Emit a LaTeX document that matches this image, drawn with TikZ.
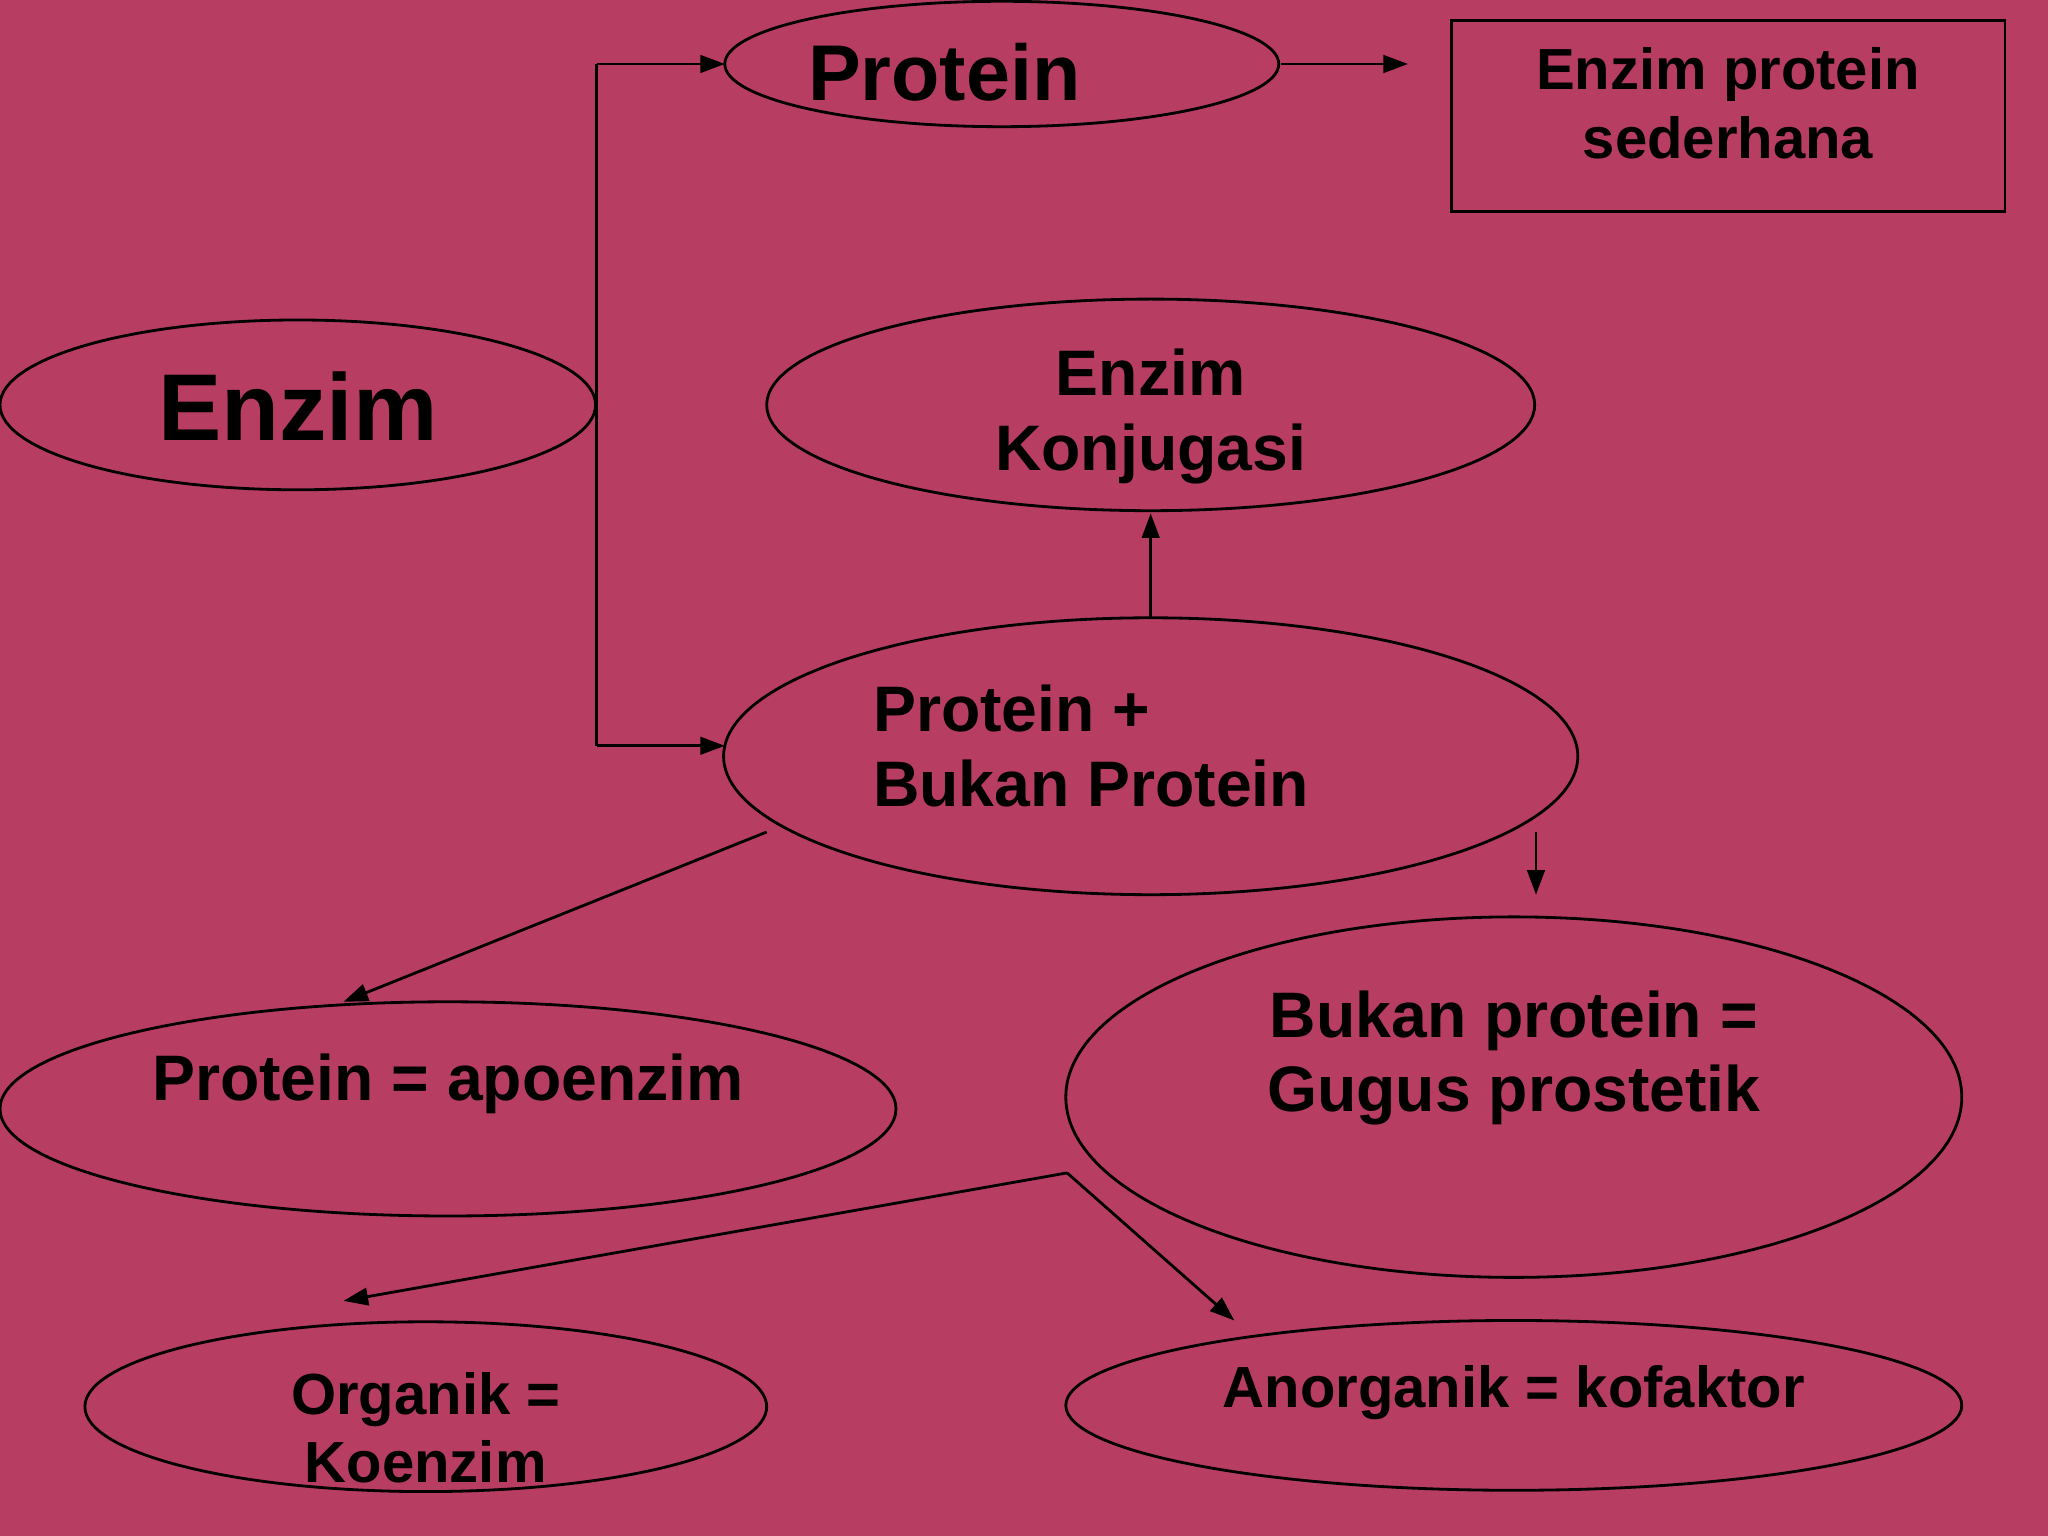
\documentclass[tikz,border=0pt]{standalone}
\usepackage{fontspec}
\setmainfont{Liberation Sans}
\usetikzlibrary{shapes.geometric,arrows.meta}
\definecolor{bg}{HTML}{B83D63}
\begin{document}
\begin{tikzpicture}[x=0.013061cm,y=-0.013061cm,
  ell/.style={draw=black,ellipse,line width=0.8pt,inner sep=0pt},
  lbl/.style={font=\bfseries,align=center,inner sep=0pt},
  con/.style={line width=0.8pt,-{Triangle[length=7pt,width=5pt]}}]
\fill[bg] (0,0) rectangle (1568,1176);
\useasboundingbox (0,0) rectangle (1568,1176);
\node[ell,minimum width=5.54cm,minimum height=1.254cm] (prot) at (767,49) {};
\node[lbl,font=\bfseries\fontsize{22.5}{26}\selectfont] at (723,55) {Protein};
\node[draw,line width=0.8pt,minimum width=5.538cm,minimum height=1.907cm] (simple) at (1323,89) {};
\node[lbl,font=\bfseries\fontsize{16.5}{19.5}\selectfont] at (1323,79) {Enzim protein\\sederhana};
\node[ell,minimum width=5.956cm,minimum height=1.698cm] (enzim) at (228,310) {};
\node[lbl,font=\bfseries\fontsize{27}{30}\selectfont] at (228,311) {Enzim};
\node[ell,minimum width=7.680cm,minimum height=2.116cm] (konj) at (881,310) {};
\node[lbl,font=\bfseries\fontsize{18.3}{21.3}\selectfont] at (881,319) {Enzim\\Konjugasi};
\node[ell,minimum width=8.542cm,minimum height=2.769cm] (pbp) at (881,579) {};
\node[lbl,font=\bfseries\fontsize{18.3}{21.3}\selectfont,align=left,anchor=west] at (668,571) {Protein +\\Bukan Protein};
\node[ell,minimum width=8.960cm,minimum height=2.142cm] (apo) at (343,849) {};
\node[lbl,font=\bfseries\fontsize{18.3}{21}\selectfont] at (343,830) {Protein = apoenzim};
\node[ell,minimum width=8.960cm,minimum height=3.605cm] (gugus) at (1159,840) {};
\node[lbl,font=\bfseries\fontsize{18.3}{21.3}\selectfont] at (1159,810) {Bukan protein =\\Gugus prostetik};
\node[ell,minimum width=6.818cm,minimum height=1.698cm] (org) at (326,1077) {};
\node[lbl,font=\bfseries\fontsize{16.5}{19.5}\selectfont] at (326,1093) {Organik =\\Koenzim};
\node[ell,minimum width=8.960cm,minimum height=1.698cm] (anorg) at (1159,1076) {};
\node[lbl,font=\bfseries\fontsize{16.5}{19}\selectfont] at (1159,1066) {Anorganik = kofaktor};
\coordinate (jt) at (457,49);
\coordinate (jb) at (457,571);
\coordinate (pt) at (555,49);
\coordinate (pb) at (555,571);
\coordinate (pe) at (981,49);
\coordinate (se) at (1078,49);
\coordinate (ku) at (881,473);
\coordinate (kd) at (881,393);
\coordinate (pl) at (587,637);
\coordinate (al) at (263,767);
\coordinate (pr) at (1176,637);
\coordinate (gr) at (1176,685);
\coordinate (gs) at (817,898);
\coordinate (oa) at (263,996);
\coordinate (ka) at (945,1011);
\draw[line width=0.8pt] (jt) -- (jb);
\draw[con] (jt) -- (pt);
\draw[con] (jb) -- (pb);
\draw[con] (pe) -- (se);
\draw[con] (ku) -- (kd);
\draw[con] (pl) -- (al);
\draw[con] (pr) -- (gr);
\draw[con] (gs) -- (oa);
\draw[con] (gs) -- (ka);
\end{tikzpicture}
\end{document}
